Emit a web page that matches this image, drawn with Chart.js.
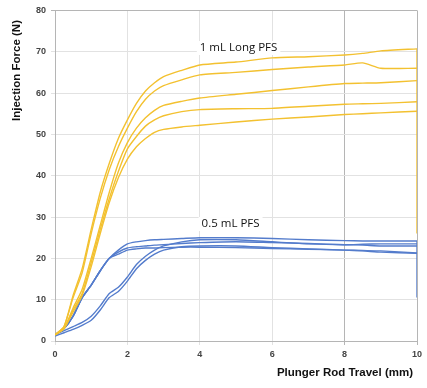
<!DOCTYPE html>
<html>
<head>
<meta charset="utf-8">
<script src="https://cdn.jsdelivr.net/npm/chart.js@4"></script>
<style>
  html, body { margin: 0; padding: 0; background: #fff; }
  #wrap { width: 427px; height: 388px; }
</style>
</head>
<body>
<div id="wrap"><canvas id="chart" width="427" height="388"></canvas></div>
<script>
// plunger rod travel (mm)
var travel = [0, 0.25, 0.5, 0.75, 1, 1.25, 1.5, 1.75, 2, 2.25, 2.5, 2.75, 3, 3.5, 4, 5, 6, 7, 8, 8.5, 9, 10];

// 1 mL Long PFS runs
var long1 = [1.5, 3.5, 11, 17.5, 27, 36, 43, 49, 53.5, 57.5, 60.5, 62.5, 64, 65.5, 66.8, 67.5, 68.5, 68.8, 69.2, 69.6, 70.2, 70.7];
var long2 = [1.5, 3.5, 10.5, 16.5, 26, 34.5, 41.5, 47, 51.5, 55.5, 58.5, 60.5, 61.8, 63.2, 64.4, 65, 65.7, 66.3, 66.8, 67.3, 66, 66];
var long3 = [1.5, 3, 8, 12.5, 20, 28, 36, 43, 48, 51.5, 54, 55.8, 57, 58, 58.8, 59.7, 60.6, 61.5, 62.3, 62.4, 62.5, 63];
var long4 = [1.5, 3, 7.5, 11.5, 19, 27, 34.5, 41, 46.5, 49.5, 52, 53.5, 54.5, 55.5, 56, 56.2, 56.3, 56.8, 57.3, 57.4, 57.5, 57.9];
var long5 = [1.5, 3, 7, 11, 18, 26, 33.5, 39.5, 44, 47, 49, 50.5, 51.2, 51.8, 52.2, 53, 53.7, 54.2, 54.8, 55, 55.2, 55.6];

// 0.5 mL PFS runs
var half1 = [1.5, 3, 6, 10.5, 13.5, 17, 20, 22, 23.5, 24, 24.3, 24.5, 24.6, 24.8, 25, 25, 24.8, 24.5, 24.3, 24.2, 24.2, 24.2];
var half2 = [1.5, 3, 6, 10.5, 13.5, 17, 20, 21.5, 22.5, 22.8, 23, 23.2, 23.3, 23.6, 23.8, 24, 23.8, 23.6, 23.3, 23.2, 23, 23];
var half3 = [1.5, 3, 6, 10.5, 13.5, 17, 20, 21, 22, 22.3, 22.5, 22.5, 22.6, 22.7, 22.7, 22.6, 22.4, 22.2, 22, 21.9, 21.8, 21.3];
var half4 = [1.5, 2.5, 3.5, 4.5, 6, 8.5, 11.5, 13, 15.5, 18.5, 20.5, 22, 23, 24, 24.5, 24.5, 24, 23.5, 23.3, 23.4, 23.5, 23.5];
var half5 = [1.2, 2, 2.8, 3.8, 5, 7.5, 10.5, 12, 14.5, 17.5, 19.5, 21, 22, 22.8, 23, 23, 22.6, 22.3, 22, 21.8, 21.5, 21.2];

// force drop at the end of the stroke
var dropTravel = [10, 10];
var longDrop = [70.7, 26];
var halfDrop = [24.2, 10.5];

var yellow = 'rgb(243,193,48)';
var blue = 'rgb(84,124,204)';

function run(xs, vals, color, tension) {
    return {
        data: xs.map((x, i) => ({x: x, y: vals[i]})),
        borderColor: color,
        borderWidth: 1.4,
        pointRadius: 0,
        tension: tension,
        fill: false
    };
}

var gridGrey = '#e2e2e2';
var edgeGrey = '#b5b5b5';

// labels + titles drawn straight onto the canvas
var annotate = {
    id: 'annotate',
    afterDatasetsDraw(chart) {
        var c = chart.ctx;
        var xs = chart.scales.x, ys = chart.scales.y;
        c.save();
        c.font = '11.5px "Open Sans"';
        c.textBaseline = 'middle';
        var labels = [["1 mL Long PFS", 4.0, 70.9], ["0.5 mL PFS", 4.05, 28.3]];
        for (var l of labels) {
            var px = xs.getPixelForValue(l[1]);
            var py = ys.getPixelForValue(l[2]);
            var w = c.measureText(l[0]).width;
            c.fillStyle = '#fff';
            c.fillRect(px - 3, py - 7, w + 6, 14);
            c.fillStyle = '#111';
            c.fillText(l[0], px, py);
        }
        c.font = 'bold 11.5px "Liberation Sans"';
        c.fillStyle = '#111';
        c.textAlign = 'right';
        c.fillText('Plunger Rod Travel (mm)', 413, 373);
        c.translate(17, 20);
        c.rotate(-Math.PI / 2);
        c.textAlign = 'right';
        c.fillText('Injection Force (N)', 0, 0);
        c.restore();
    }
};

new Chart(document.getElementById('chart'), {
    type: 'line',
    data: {
        datasets: [
            run(travel, long1, yellow, 0.2), run(travel, long2, yellow, 0.2), run(travel, long3, yellow, 0.2),
            run(travel, long4, yellow, 0.2), run(travel, long5, yellow, 0.2),
            run(dropTravel, longDrop, yellow, 0),
            run(travel, half1, blue, 0.2), run(travel, half2, blue, 0.2), run(travel, half3, blue, 0.2),
            run(travel, half4, blue, 0.2), run(travel, half5, blue, 0.2),
            run(dropTravel, halfDrop, blue, 0)
        ]
    },
    options: {
        responsive: false,
        animation: false,
        layout: { padding: { top: 1, right: 10, left: 0, bottom: 0 } },
        plugins: { legend: { display: false }, tooltip: { enabled: false } },
        scales: {
            x: {
                type: 'linear',
                min: 0, max: 10,
                afterFit: (s) => { s.height = 47; },
                ticks: {
                    stepSize: 2,
                    color: '#444',
                    font: { family: 'Liberation Sans', size: 9, weight: 'bold' },
                    padding: 4
                },
                grid: {
                    color: (ctx) => (ctx.tick && (ctx.tick.value == 8 || ctx.tick.value == 10)) ? edgeGrey : gridGrey,
                    tickLength: 4
                },
                border: { color: edgeGrey }
            },
            y: {
                min: 0, max: 80,
                afterFit: (s) => { s.width = 55; },
                ticks: {
                    stepSize: 10,
                    color: '#444',
                    font: { family: 'Liberation Sans', size: 9, weight: 'bold' },
                    padding: 5
                },
                grid: {
                    color: (ctx) => (ctx.tick && ctx.tick.value == 80) ? edgeGrey : gridGrey,
                    tickLength: 4
                },
                border: { color: edgeGrey }
            }
        }
    },
    plugins: [annotate]
});
</script>
</body>
</html>
